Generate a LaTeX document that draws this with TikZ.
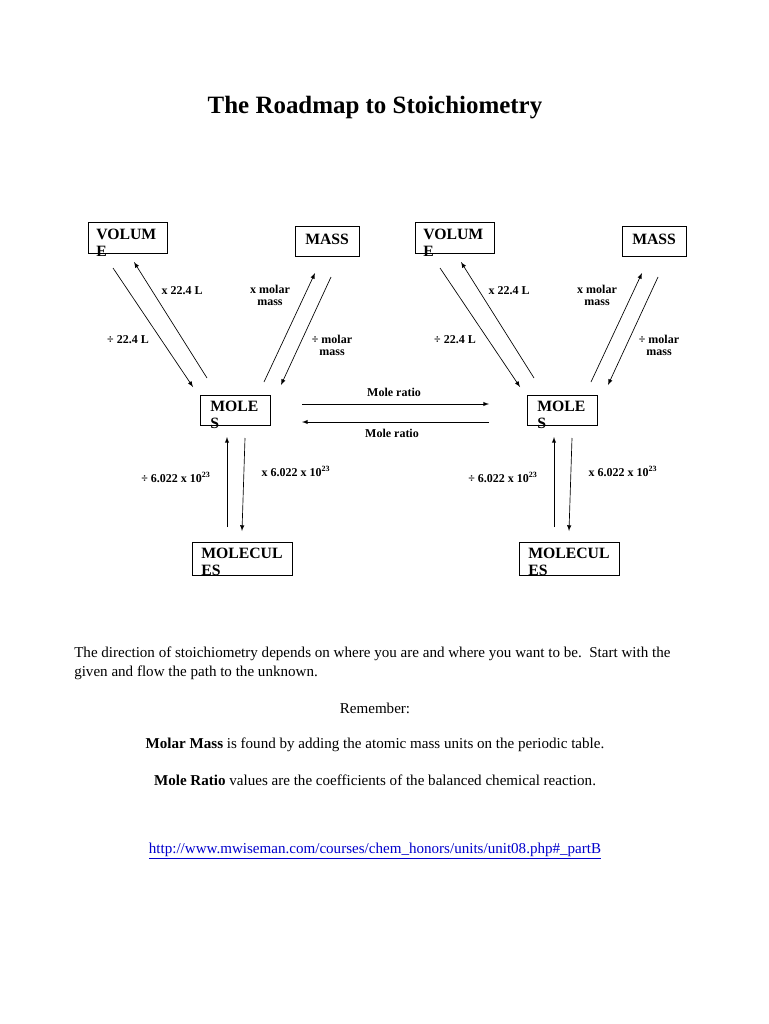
\documentclass[tikz,border=0pt]{standalone}
\usepackage{fontspec}
\setmainfont{Liberation Serif}
\begin{document}
\begin{tikzpicture}[x=0.75pt,y=-0.75pt,
  box/.style={draw,line width=0.6pt},
  bt/.style={font=\bfseries\fontsize{11.8}{12.5}\selectfont,align=left,anchor=north west,inner sep=0pt},
  lab/.style={font=\bfseries\fontsize{9}{9}\selectfont,align=center,inner sep=0pt},
  arr/.style={-latex,line width=0.5pt},
  body/.style={font=\fontsize{11.3}{14}\selectfont,inner sep=0pt}]
\useasboundingbox (0,0) rectangle (768,1024);
\node[font=\bfseries\fontsize{18.7}{22}\selectfont] (title) at (375,108) {The Roadmap to Stoichiometry};
\foreach \o/\s in {0/L,327/R}{
\begin{scope}[xshift=\o*0.75pt]
 \draw[box] (88,222) rectangle (167,253);
 \node[bt] (vol\s) at (96,229) {VOLUM\\E};
 \draw[box] (295,226) rectangle (359,256);
 \node[bt] (mass\s) at (305,234) {MASS};
 \draw[box] (200,395) rectangle (270,425);
 \node[bt] (mol\s) at (210,401) {MOLE\\S};
 \draw[box] (192,542) rectangle (292,575);
 \node[bt] (mlc\s) at (201,548) {MOLECUL\\ES};
 \coordinate (a1\s) at (113,268); \coordinate (a2\s) at (193,387);
 \coordinate (b1\s) at (207,378); \coordinate (b2\s) at (134,262);
 \coordinate (c1\s) at (264,382); \coordinate (c2\s) at (315,273);
 \coordinate (d1\s) at (331,277); \coordinate (d2\s) at (281,385);
 \coordinate (e1\s) at (245,438); \coordinate (e2\s) at (242,531);
 \coordinate (f1\s) at (227,527); \coordinate (f2\s) at (227,437);
 \draw[arr] (a1\s) -- (a2\s);
 \draw[arr] (b1\s) -- (b2\s);
 \draw[arr] (c1\s) -- (c2\s);
 \draw[arr] (d1\s) -- (d2\s);
 \draw[arr] (e1\s) -- (e2\s);
 \draw[arr] (f1\s) -- (f2\s);
 \node[lab] (l1\s) at (182,291) {x 22.4 L};
 \node[lab] (l2\s) at (128,340) {÷ 22.4 L};
 \node[lab] (l3\s) at (270,295) {x molar\\mass};
 \node[lab] (l4\s) at (332,345) {÷ molar\\mass};
 \node[lab] (l5\s) at (176,477) {÷ 6.022 x 10\textsuperscript{23}};
 \node[lab] (l6\s) at (296,471) {x 6.022 x 10\textsuperscript{23}};
\end{scope}}
\node[lab] (mr1) at (394,392) {Mole ratio};
\node[lab] (mr2) at (392,433) {Mole ratio};
\coordinate (r1) at (302,404); \coordinate (r2) at (489,404);
\coordinate (r3) at (489,422); \coordinate (r4) at (302,422);
\draw[arr] (r1) -- (r2);
\draw[arr] (r3) -- (r4);
\node[body,anchor=north west,align=left] (p1) at (74,647) {The direction of stoichiometry depends on where you are and where you want to be.\ \ Start with the\\given and flow the path to the unknown.};
\node[body] (p2) at (375,708) {Remember:};
\node[body] (p3) at (375,745) {\textbf{Molar Mass} is found by adding the atomic mass units on the periodic table.};
\node[body] (p4) at (375,780) {\textbf{Mole Ratio} values are the coefficients of the balanced chemical reaction.};
\node[body,text=blue!80!black] (p5) at (375,851) {\underline{http://www.mwiseman.com/courses/chem\_honors/units/unit08.php\#\_partB}};
\end{tikzpicture}
\end{document}
